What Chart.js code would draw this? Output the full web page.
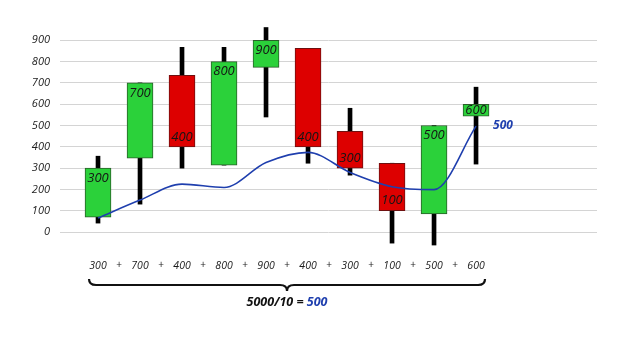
<!DOCTYPE html>
<html>
<head>
<meta charset="utf-8">
<script src="https://cdn.jsdelivr.net/npm/chart.js@4/dist/chart.umd.min.js"></script>
<style>
html,body{margin:0;padding:0;background:#fff;}
#wrap{width:640px;height:360px;position:relative;}
</style>
</head>
<body>
<div id="wrap"><canvas id="c" width="640" height="360"></canvas></div>
<script>
// ---- data ----
const candleLabels = ['300','700','400','800','900','400','300','100','500','600'];
const openVals  = [70, 347, 736, 314, 773, 862, 473, 323, 85, 544];
const closeVals = [300, 700, 400, 800, 900, 400, 300, 100, 500, 600];
const highVals  = [356, 700, 867, 867, 960, 862, 581, 323, 500, 680];
const lowVals   = [42, 131, 300, 314, 540, 323, 267, -52, -61, 319];
const avgLine   = [66, 150, 225, 209, 326, 374, 280, 213, 199, 497];
const yTicks    = [0, 100, 200, 300, 400, 500, 600, 700, 800, 900];

const FONT = '"Open Sans", "DejaVu Sans", sans-serif';
const GREEN = '#2bd13a', GREEN_B = '#2a5e2a';
const RED = '#dd0000', RED_B = '#6e1010';
const BLUE = '#1f3fae';

const bodies = openVals.map((o, i) => ({x: i, y: [o, closeVals[i]]}));
const wicks = lowVals.map((l, i) => ({x: i, y: [l, highVals[i]]}));
const linePts = avgLine.map((v, i) => ({x: i, y: v}));
const isUp = openVals.map((o, i) => closeVals[i] >= o);

const annot = {
  id: 'annot',
  afterDatasetsDraw(chart) {
    const ctx = chart.ctx;
    const xs = chart.scales.x, ys = chart.scales.y;
    const area = chart.chartArea;
    ctx.save();
    // candle labels
    ctx.font = 'italic 13px ' + FONT;
    ctx.fillStyle = '#151515';
    ctx.textAlign = 'center';
    ctx.textBaseline = 'middle';
    candleLabels.forEach((t, i) => {
      const px = xs.getPixelForValue(i);
      const top = ys.getPixelForValue(Math.max(openVals[i], closeVals[i]));
      const bot = ys.getPixelForValue(Math.min(openVals[i], closeVals[i]));
      const off = Math.min(10, (bot - top) / 2);
      const py = isUp[i] ? top + off : bot - off;
      ctx.fillText(t, px, py);
    });
    // line end label
    const last = avgLine.length - 1;
    const avg = closeVals.reduce((a, b) => a + b, 0) / closeVals.length;
    ctx.font = 'bold italic 12px ' + FONT;
    ctx.fillStyle = BLUE;
    ctx.textAlign = 'left';
    ctx.fillText(String(avg), xs.getPixelForValue(last) + 17, ys.getPixelForValue(avgLine[last]) - 1);

    // sum row
    const rowY = area.bottom + 2;
    ctx.fillStyle = '#1a1a1a';
    ctx.textAlign = 'center';
    candleLabels.forEach((t, i) => {
      const px = xs.getPixelForValue(i);
      ctx.font = 'italic 10.5px ' + FONT;
      ctx.fillText(t, px, rowY);
      if (i < candleLabels.length - 1) {
        ctx.font = '10px ' + FONT;
        ctx.fillText('+', (px + xs.getPixelForValue(i + 1)) / 2, rowY - 1);
      }
    });
    // brace
    const L = xs.getPixelForValue(0) - 9, R = xs.getPixelForValue(last) + 9;
    const M = (L + R) / 2;
    const by = area.bottom + 21;
    ctx.strokeStyle = '#111';
    ctx.lineWidth = 2.2;
    ctx.beginPath();
    ctx.moveTo(L, by - 6);
    ctx.quadraticCurveTo(L, by, L + 7, by);
    ctx.lineTo(M - 7, by);
    ctx.quadraticCurveTo(M, by, M, by + 6);
    ctx.quadraticCurveTo(M, by, M + 7, by);
    ctx.lineTo(R - 7, by);
    ctx.quadraticCurveTo(R, by, R, by - 6);
    ctx.stroke();
    // formula
    const total = closeVals.reduce((a, b) => a + b, 0);
    const part1 = total + '/' + closeVals.length + ' = ';
    const part2 = String(avg);
    ctx.font = 'bold italic 12.5px ' + FONT;
    const w1 = ctx.measureText(part1).width, w2 = ctx.measureText(part2).width;
    const sx = M - (w1 + w2) / 2;
    const fy = area.bottom + 38;
    ctx.textAlign = 'left';
    ctx.fillStyle = '#111';
    ctx.fillText(part1, sx, fy);
    ctx.fillStyle = BLUE;
    ctx.fillText(part2, sx + w1, fy);
    ctx.restore();
  }
};

new Chart(document.getElementById('c'), {
  type: 'bar',
  data: {
    datasets: [
      {
        type: 'line', data: linePts, borderColor: BLUE, borderWidth: 1.6,
        pointRadius: 0, cubicInterpolationMode: 'monotone', fill: false, order: 0, clip: false
      },
      {
        type: 'bar', data: bodies,
        backgroundColor: isUp.map(u => u ? GREEN : RED),
        borderColor: isUp.map(u => u ? GREEN_B : RED_B),
        borderWidth: 1, borderSkipped: false, barThickness: 26, grouped: false, order: 1, clip: false
      },
      {
        type: 'bar', data: wicks, backgroundColor: '#000', borderWidth: 0,
        barThickness: 4, grouped: false, order: 2, clip: false
      }
    ]
  },
  options: {
    responsive: false,
    animation: false,
    layout: {padding: {left: 0, right: 43, top: 19, bottom: 96}},
    plugins: {legend: {display: false}, tooltip: {enabled: false}},
    scales: {
      x: {type: 'linear', display: false, min: -0.905, max: 11.88, offset: false},
      y: {
        min: -150, max: 1000,
        border: {display: false},
        grid: {color: '#d4d4d4', lineWidth: 1, drawTicks: false},
        afterBuildTicks: s => { s.ticks = yTicks.map(v => ({value: v})); },
        afterFit: s => { s.width = 60; },
        ticks: {
          padding: 10, color: '#222',
          font: {family: FONT, size: 11, style: 'italic'}
        }
      }
    }
  },
  plugins: [annot]
});
</script>
</body>
</html>
